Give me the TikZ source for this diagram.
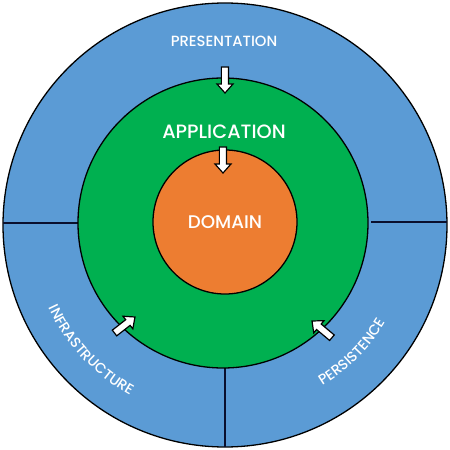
\documentclass[tikz,border=0pt]{standalone}
\usepackage{fontspec}
\setmainfont{Poppins}
\newfontfamily\medfont{Poppins}[UprightFont={* Medium}]
\usetikzlibrary{decorations.text}
\definecolor{ringblue}{RGB}{91,155,213}
\definecolor{appgreen}{RGB}{0,176,80}
\definecolor{domorange}{RGB}{237,125,49}
\definecolor{divline}{RGB}{10,15,45}
\tikzset{
  ring/.style={draw=black, line width=1.3pt},
  divider/.style={draw=divline, line width=1.6pt},
  label/.style={text=white, inner sep=0pt},
  blockarrow/.style={draw=black, fill=white, line width=1.2pt, line join=miter},
}
\newcommand{\blockarr}[3]{% tip x, tip y, angle
  \draw[blockarrow, shift={(#1,#2)}, rotate=#3]
    (0,0) -- (-9,8) -- (-9,3.6) -- (-26,3.6) -- (-26,-3.6) -- (-9,-3.6) -- (-9,-8) -- cycle;
}
\begin{document}
\begin{tikzpicture}[x=1pt,y=1pt]
\useasboundingbox (-225,-225) rectangle (225,225);
% rings
\filldraw[ring, fill=ringblue] (0,0) circle[radius=222];
\draw[divider] (-222,2) -- (-146,2);
\draw[divider] (146,3) -- (222,3);
\draw[divider] (0,-143) -- (0,-222);
\filldraw[ring, fill=appgreen] (-2,2) circle[radius=145];
\filldraw[ring, fill=domorange] (0,3) circle[radius=72];
% labels
\node[label, font=\medfont\fontsize{14.8}{16}\selectfont] (pres) at (-1,184) {PRESENTATION};
\node[label, font=\medfont\fontsize{19.3}{21}\selectfont] (app) at (-1,93) {APPLICATION};
\node[label, font=\medfont\fontsize{18.3}{20}\selectfont] (dom) at (0,3) {DOMAIN};
\path[decorate, decoration={text along path, text align=center, text color=white,
  text={|\medfont\fontsize{14.3}{16}\selectfont|INFRASTRUCTURE}}]
  (183:195) arc[start angle=183, end angle=263, radius=195];
\path[decorate, decoration={text along path, text align=center, text color=white,
  text={|\medfont\fontsize{14.3}{16}\selectfont|PERSISTENCE}}]
  (275:188) arc[start angle=275, end angle=355, radius=188];
% arrows
\blockarr{0}{132}{-90}
\blockarr{-2}{52}{-90}
\blockarr{-90}{-92}{38}
\blockarr{87}{-96}{140}
\end{tikzpicture}
\end{document}
